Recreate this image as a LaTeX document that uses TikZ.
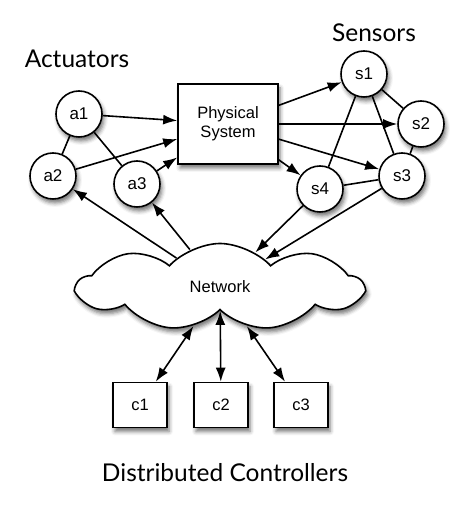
\documentclass[tikz,border=0pt]{standalone}
\usepackage{fontspec}
\setmainfont{Liberation Sans}
\newfontfamily\headfont{Lato}
\usetikzlibrary{shapes.symbols, arrows.meta, shadows.blur}

\begin{document}
\begin{tikzpicture}[x=1pt,y=1pt,
  shade/.style={blur shadow={shadow xshift=2pt, shadow yshift=-4pt, shadow blur radius=4pt, shadow opacity=55}},
  agent/.style={circle, draw, line width=1.6pt, fill=white, minimum size=46pt, inner sep=0pt, shade, font=\fontsize{17}{20}\selectfont},
  block/.style={rectangle, draw, line width=1.6pt, fill=white, inner sep=0pt, shade, font=\fontsize{16.5}{19}\selectfont},
  head/.style={font=\headfont\fontsize{24.5}{28}\selectfont},
  tip/.style={Latex[length=14pt,width=10pt]},
  arr/.style={-{Latex[length=14pt,width=10pt]}, line width=1.6pt},
  link/.style={line width=1.6pt}]
\useasboundingbox (0,0) rectangle (474,505);

% Labels
\node[head] (acttitle) at (77,446) {Actuators};
\node[head] (sentitle) at (374,472) {Sensors};
\node[head] (ctltitle) at (225,32) {Distributed Controllers};

% Plant
\node[block, minimum width=100pt, minimum height=80pt, align=center] (phys) at (228,381) {Physical\\System};

% Actuators
\node[agent] (a1) at (79,391) {a1};
\node[agent] (a2) at (53,329) {a2};
\node[agent] (a3) at (137,321) {a3};

% Sensors
\node[agent] (s1) at (364,431) {s1};
\node[agent] (s2) at (421,381) {s2};
\node[agent] (s3) at (402,329) {s3};
\node[agent] (s4) at (320,316) {s4};

% Network
\node[cloud, cloud puffs=9, cloud puff arc=95, aspect=3.3, draw, line width=1.6pt, fill=white, shade,
  minimum width=285pt, minimum height=87pt, font=\fontsize{16.5}{19}\selectfont] (net) at (220,218) {Network};

% Controllers
\foreach \i/\x in {1/140, 2/221, 3/301} {
  \node[block, minimum width=54pt, minimum height=45pt] (c\i) at (\x,100) {c\i};
}

% Connectors
\foreach \a/\b in {a1/a2, a1/a3, s1/s2, s1/s3, s1/s4, s2/s3, s3/s4}
  \draw[link] (\a) -- (\b);
\foreach \a/\b in {a1/phys, a2/phys, a3/phys, phys/s1, phys/s2, phys/s3, phys/s4, net/a2, net/a3, s4/net, s3/net}
  \draw[arr] (\a) -- (\b);
\foreach \i in {1,2,3}
  \draw[link, {Latex[length=14pt,width=10pt]}-{Latex[length=14pt,width=10pt]}] (net) -- (c\i);
\end{tikzpicture}
\end{document}
